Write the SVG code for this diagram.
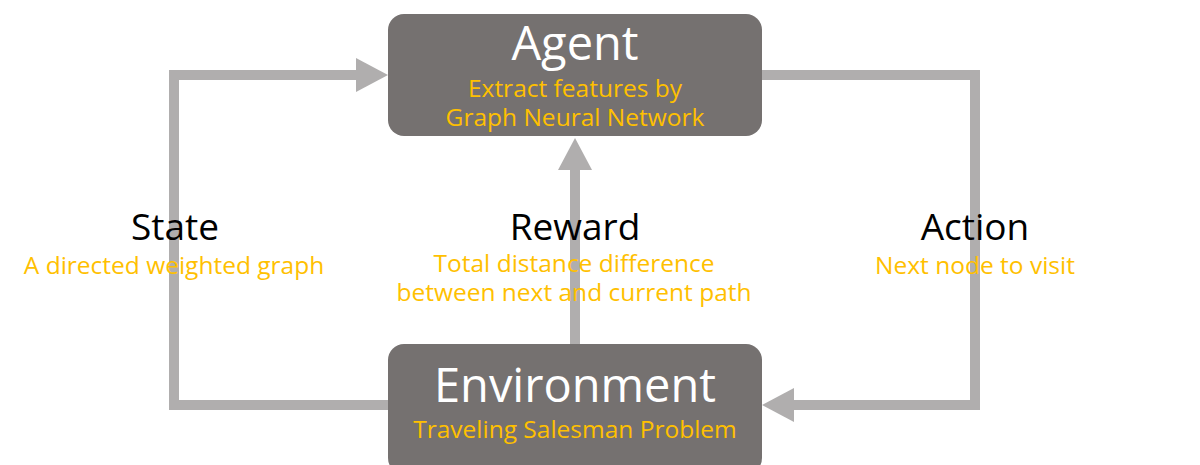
<svg xmlns="http://www.w3.org/2000/svg" width="1200" height="465" viewBox="0 0 1200 465">
<style>
.box{fill:#757170}
.ln{fill:none;stroke:#b0aeae;stroke-width:10}
.ah{fill:#b0aeae}
.t{font-family:"Open Sans","Liberation Sans",sans-serif;text-anchor:middle}
.w{fill:#fff;font-size:47px}
.y{fill:#ffc000;font-size:24.5px}
.k{fill:#000;font-size:37px}
</style>
<rect width="1200" height="465" fill="#fff"/>
<g id="connectors">
<polyline class="ln" points="388,405 174,405 174,75 360,75"/>
<polygon class="ah" points="388,75 356,58 356,92"/>
<polyline class="ln" points="762,75 975,75 975,405 792,405"/>
<polygon class="ah" points="762,405 794,388 794,422"/>
<line class="ln" x1="575" y1="344" x2="575" y2="166"/>
<polygon class="ah" points="575,138 558,170 592,170"/>
</g>
<g id="agent">
<rect class="box" x="388" y="14" width="374" height="122" rx="16"/>
<text class="t w" x="575" y="60">Agent</text>
<text class="t y" x="575" y="97">Extract features by</text>
<text class="t y" x="575" y="126">Graph Neural Network</text>
</g>
<g id="environment">
<rect class="box" x="388" y="344" width="374" height="130" rx="16"/>
<text class="t w" x="575" y="402">Environment</text>
<text class="t y" x="575" y="438">Traveling Salesman Problem</text>
</g>
<g id="state">
<text class="t k" x="175" y="240">State</text>
<text class="t y" x="174" y="274">A directed weighted graph</text>
</g>
<g id="reward">
<text class="t k" x="575" y="240">Reward</text>
<text class="t y" x="574" y="272">Total distance difference</text>
<text class="t y" x="574" y="301">between next and current path</text>
</g>
<g id="action">
<text class="t k" x="975" y="240">Action</text>
<text class="t y" x="975" y="274">Next node to visit</text>
</g>
</svg>
